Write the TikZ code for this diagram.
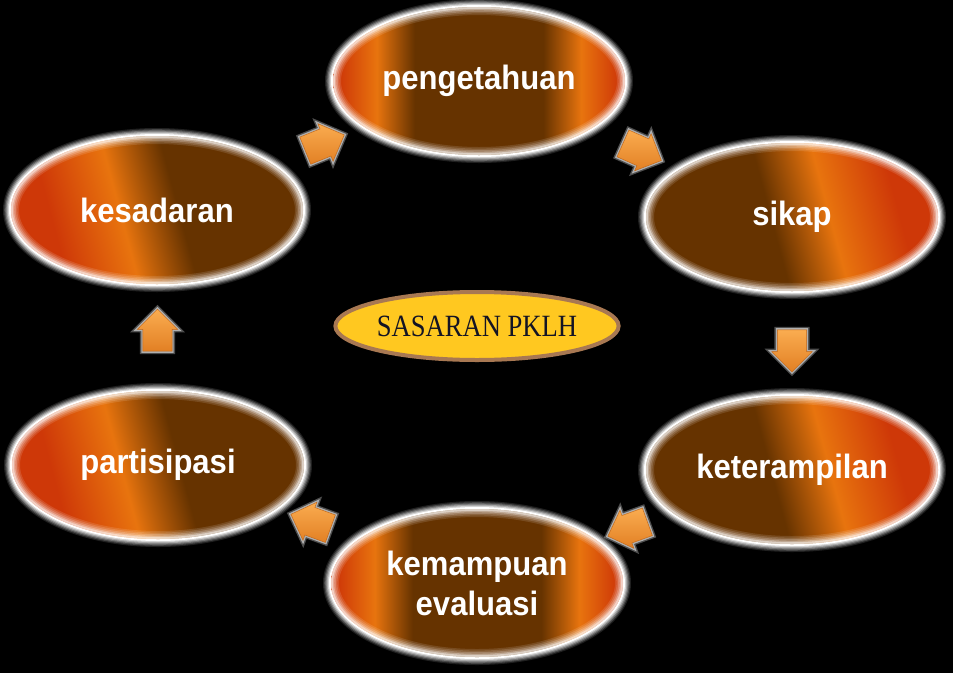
\documentclass[tikz,border=0pt]{standalone}
\usepackage{fontspec}
\setmainfont{Liberation Sans}
\newfontfamily\ellfont[FakeStretch=0.92]{Liberation Sans}
\newfontfamily\serifc[FakeStretch=0.86]{Liberation Serif}
\usetikzlibrary{shapes.geometric,shapes.arrows,calc}
\definecolor{cRed}{RGB}{206,56,8}
\definecolor{cOr}{RGB}{232,116,14}
\definecolor{cBr}{RGB}{102,51,0}
\definecolor{cYel}{RGB}{255,200,32}
\definecolor{cRim}{RGB}{168,120,82}
\definecolor{cInk}{RGB}{20,20,36}
\definecolor{aLight}{RGB}{250,172,80}
\definecolor{aDark}{RGB}{226,128,36}
\definecolor{aEdge}{RGB}{196,102,20}
\pgfdeclarehorizontalshading{symsh}{100bp}{color(0bp)=(cRed); color(26bp)=(cRed); color(32.5bp)=(cOr); color(39bp)=(cBr); color(61bp)=(cBr); color(67.5bp)=(cOr); color(74bp)=(cRed); color(100bp)=(cRed)}
\pgfdeclarehorizontalshading{leftsh}{100bp}{color(0bp)=(cRed); color(30bp)=(cRed); color(43bp)=(cOr); color(54bp)=(cBr); color(100bp)=(cBr)}
\pgfdeclarehorizontalshading{rightsh}{100bp}{color(0bp)=(cBr); color(46bp)=(cBr); color(57bp)=(cOr); color(70bp)=(cRed); color(100bp)=(cRed)}
\tikzset{
  ell/.style={ellipse, minimum width=73mm, minimum height=37mm, inner sep=0pt,
    text=white, font=\ellfont\bfseries\fontsize{24}{28.5}\selectfont, align=center,
    preaction={draw=white, line width=4.0mm, opacity=0.12},
    preaction={draw=white, line width=3.4mm, opacity=0.18},
    preaction={draw=white, line width=2.8mm, opacity=0.25},
    preaction={draw=white, line width=2.2mm, opacity=0.35},
    preaction={draw=white, line width=1.6mm, opacity=0.5},
    preaction={draw=white, line width=1.0mm},
    path picture={
      \foreach \w/\o in {4.0/0.12, 3.2/0.15, 2.4/0.2, 1.6/0.3, 0.9/0.45}{
        \draw[white, line width=\w mm, opacity=\o] (path picture bounding box.center) ellipse [x radius=36.5mm, y radius=18.5mm];}}},
  symell/.style={ell, shading=symsh},
  leftell/.style={ell, shading=leftsh, shading angle=15},
  rightell/.style={ell, shading=rightsh, shading angle=15},
  blk/.style={single arrow, minimum height=10.5mm, inner xsep=0pt, inner ysep=3.6mm,
    single arrow head extend=1.4mm, single arrow tip angle=90,
    top color=aLight, bottom color=aDark, draw=aEdge, line width=0.3pt,
    preaction={draw=white, line width=1.5mm, opacity=0.3},
    preaction={draw=white, line width=0.8mm, opacity=0.55}},
  centre/.style={ellipse, draw=cRim, line width=1mm, fill=cYel, minimum width=64mm,
    minimum height=17mm, inner sep=0pt, font=\serifc\fontsize{22}{24}\selectfont, text=cInk}
}
\begin{document}
\begin{tikzpicture}[x=0.25mm, y=-0.25mm]
\fill[black] (0,0) rectangle (953,673);
\useasboundingbox (0,0) rectangle (953,673);
\node[symell] (pen) at (479,81) {pengetahuan};
\node[rightell] (sik) at (792,217) {sikap};
\node[rightell] (ket) at (792,470) {keterampilan};
\node[symell] (kem) at (477,583) {kemampuan\\evaluasi};
\node[leftell] (par) at (158,465) {partisipasi};
\node[leftell] (kes) at (157,210) {kesadaran};
\node[centre] (sas) at (477,326) {SASARAN PKLH};
\node[blk, rotate=22] (a1) at ($(kes)!0.5!(pen)$) {};
\node[blk, rotate=-24] (a2) at ($(pen)!0.5!(sik)$) {};
\node[blk, rotate=-90] (a3) at ($(sik)!0.5!(ket)$) {};
\node[blk, rotate=-160] (a4) at ($(ket)!0.5!(kem)$) {};
\node[blk, rotate=160] (a5) at ($(kem)!0.5!(par)$) {};
\node[blk, rotate=90] (a6) at ($(par)!0.5!(kes)$) {};
\end{tikzpicture}
\end{document}
